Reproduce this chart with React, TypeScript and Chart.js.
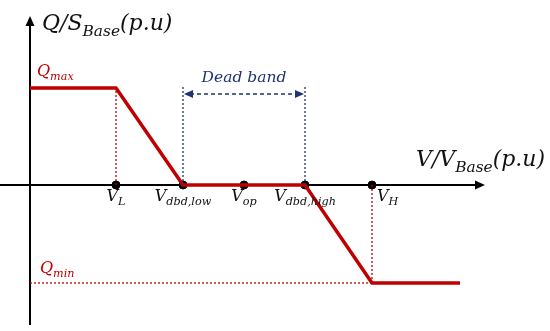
import React, { useEffect, useRef } from "react";
import { Chart, registerables } from "chart.js";

Chart.register(...registerables);

// Characteristic (Volt-VAR) curve, schematic units
const curveV = [0, 86, 153, 275, 342, 430];
const curveQ = [97, 97, 0, 0, -98, -98];

// Marked voltage points on the V axis
const pointV = [86, 153, 214, 275, 342];
const pointSubs = ["L", "dbd,low", "op", "dbd,high", "H"];

const qMax = 97;
const qMin = -98;
const vL = 86;
const vH = 342;
const vDbdLow = 153;
const vDbdHigh = 275;
const deadBandTop = 100;
const deadBandArrowQ = 91;

const RED = "#c00000";
const NAVY = "#1f3470";
const SERIF = "'DejaVu Serif', 'Liberation Serif', serif";

type Part = { t: string; sub?: boolean };

function drawRich(
  ctx: CanvasRenderingContext2D,
  parts: Part[],
  x: number,
  y: number,
  size: number,
  color: string,
  align: "left" | "center" = "left",
  subRatio = 0.7
) {
  const subSize = size * subRatio;
  const fontFor = (p: Part) => `italic ${p.sub ? subSize : size}px ${SERIF}`;
  let total = 0;
  for (const p of parts) {
    ctx.font = fontFor(p);
    total += ctx.measureText(p.t).width;
  }
  let cx = align === "center" ? x - total / 2 : x;
  ctx.fillStyle = color;
  ctx.textBaseline = "alphabetic";
  ctx.textAlign = "left";
  for (const p of parts) {
    ctx.font = fontFor(p);
    ctx.fillText(p.t, cx, p.sub ? y + size * 0.28 : y);
    cx += ctx.measureText(p.t).width;
  }
}

function arrowHead(ctx: CanvasRenderingContext2D, x: number, y: number, dir: "up" | "right" | "left", len: number, half: number, color: string) {
  ctx.fillStyle = color;
  ctx.beginPath();
  if (dir === "up") {
    ctx.moveTo(x, y);
    ctx.lineTo(x - half, y + len);
    ctx.lineTo(x + half, y + len);
  } else if (dir === "right") {
    ctx.moveTo(x, y);
    ctx.lineTo(x - len, y - half);
    ctx.lineTo(x - len, y + half);
  } else {
    ctx.moveTo(x, y);
    ctx.lineTo(x + len, y - half);
    ctx.lineTo(x + len, y + half);
  }
  ctx.closePath();
  ctx.fill();
}

const decorPlugin = {
  id: "decor",
  beforeDatasetsDraw(chart: any) {
    const ctx: CanvasRenderingContext2D = chart.ctx;
    const xs = chart.scales.x;
    const ys = chart.scales.y;
    const x0 = xs.getPixelForValue(0);
    const y0 = ys.getPixelForValue(0);
    ctx.save();
    ctx.strokeStyle = "#000";
    ctx.lineWidth = 2;
    // vertical axis
    const yTop = ys.getPixelForValue(169);
    const yBot = ys.getPixelForValue(-140);
    ctx.beginPath();
    ctx.moveTo(x0, yBot);
    ctx.lineTo(x0, yTop + 8);
    ctx.stroke();
    arrowHead(ctx, x0, yTop, "up", 10, 4.5, "#000");
    // horizontal axis
    const xLeft = xs.getPixelForValue(-30);
    const xRight = xs.getPixelForValue(455);
    ctx.beginPath();
    ctx.moveTo(xLeft, y0);
    ctx.lineTo(xRight - 8, y0);
    ctx.stroke();
    arrowHead(ctx, xRight, y0, "right", 10, 4.5, "#000");

    // dead band arrow
    const ya = ys.getPixelForValue(deadBandArrowQ);
    const xa1 = xs.getPixelForValue(vDbdLow);
    const xa2 = xs.getPixelForValue(vDbdHigh);
    ctx.strokeStyle = NAVY;
    ctx.lineWidth = 1.6;
    ctx.setLineDash([4, 3]);
    ctx.beginPath();
    ctx.moveTo(xa1 + 7, ya);
    ctx.lineTo(xa2 - 7, ya);
    ctx.stroke();
    ctx.setLineDash([]);
    arrowHead(ctx, xa1 + 1, ya, "left", 9, 4, NAVY);
    arrowHead(ctx, xa2 - 1, ya, "right", 9, 4, NAVY);
    ctx.restore();
  },
  afterDatasetsDraw(chart: any) {
    const ctx: CanvasRenderingContext2D = chart.ctx;
    const xs = chart.scales.x;
    const ys = chart.scales.y;
    const x0 = xs.getPixelForValue(0);
    const y0 = ys.getPixelForValue(0);
    ctx.save();
    drawRich(ctx, [{ t: "Q" }, { t: "/" }, { t: "S" }, { t: "Base", sub: true }, { t: "(p.u)" }], x0 + 12, 30, 22, "#111");
    drawRich(ctx, [{ t: "V" }, { t: "/" }, { t: "V" }, { t: "Base", sub: true }, { t: "(p.u)" }], 416, 166, 22, "#111");
    drawRich(ctx, [{ t: "Q" }, { t: "max", sub: true }], x0 + 7, ys.getPixelForValue(qMax) - 12, 16, RED);
    drawRich(ctx, [{ t: "Q" }, { t: "min", sub: true }], x0 + 10, ys.getPixelForValue(qMin) - 10, 16, RED);
    drawRich(
      ctx,
      [{ t: "Dead band" }],
      (xs.getPixelForValue(vDbdLow) + xs.getPixelForValue(vDbdHigh)) / 2,
      ys.getPixelForValue(deadBandArrowQ) - 12,
      15.5,
      NAVY,
      "center"
    );
    pointV.forEach((v, i) => {
      const px = xs.getPixelForValue(v);
      const parts: Part[] = [{ t: "V" }, { t: pointSubs[i], sub: true }];
      if (pointSubs[i] === "H") {
        drawRich(ctx, parts, px + 5, y0 + 16, 16, "#111");
      } else {
        drawRich(ctx, parts, px, y0 + 16, 16, "#111", "center");
      }
    });
    ctx.restore();
  },
};

export default function App() {
  const ref = useRef<HTMLCanvasElement>(null);
  useEffect(() => {
    document.body.style.margin = "0";
    const canvas = ref.current!;
    const guide = (pts: { x: number; y: number }[], color: string) => ({
      data: pts,
      showLine: true,
      borderColor: color,
      borderWidth: 1.3,
      borderDash: [2, 2],
      pointRadius: 0,
    });
    const chart = new Chart(canvas, {
      type: "scatter",
      data: {
        datasets: [
          { label: "Q_min guide", ...guide([{ x: 0, y: qMin }, { x: vH, y: qMin }], RED) },
          { label: "V_L guide", ...guide([{ x: vL, y: 0 }, { x: vL, y: qMax }], RED) },
          { label: "V_H guide", ...guide([{ x: vH, y: 0 }, { x: vH, y: qMin }], RED) },
          { label: "dbd low guide", ...guide([{ x: vDbdLow, y: 0 }, { x: vDbdLow, y: deadBandTop }], NAVY) },
          { label: "dbd high guide", ...guide([{ x: vDbdHigh, y: 0 }, { x: vDbdHigh, y: deadBandTop }], NAVY) },
          {
            label: "curve",
            data: curveV.map((v, i) => ({ x: v, y: curveQ[i] })),
            showLine: true,
            borderColor: RED,
            borderWidth: 3.5,
            pointRadius: 0,
            borderJoinStyle: "miter",
          },
          {
            label: "points",
            data: pointV.map((v) => ({ x: v, y: 0 })),
            pointRadius: 4,
            pointBackgroundColor: "#000",
            pointBorderColor: "#000",
            showLine: false,
          },
        ],
      },
      options: {
        animation: false,
        responsive: false,
        events: [],
        layout: { padding: 0, autoPadding: false },
        plugins: {
          legend: { display: false },
          tooltip: { enabled: false },
          title: { display: false },
        },
        scales: {
          x: { type: "linear", min: -30, max: 520, display: false },
          y: { type: "linear", min: -146, max: 185, display: false },
        },
      },
      plugins: [decorPlugin],
    } as any);
    return () => chart.destroy();
  }, []);
  return (
    <div style={{ width: 550, height: 331, background: "#fff" }}>
      <canvas ref={ref} width={550} height={331} style={{ display: "block" }} />
    </div>
  );
}
